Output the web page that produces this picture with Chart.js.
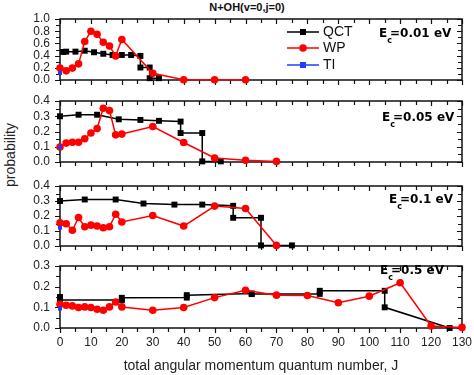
<!DOCTYPE html>
<html>
<head>
<meta charset="utf-8">
<script src="https://cdn.jsdelivr.net/npm/chart.js@4.4.1/dist/chart.umd.min.js"></script>
<style>
  body { margin: 0; background: #fff; width: 474px; height: 375px; position: relative; overflow: hidden; }
  canvas { position: absolute; left: 0; }
  #title { position: absolute; top: 0; left: 147px; width: 200px; text-align: center; font: bold 11px Arial, "Liberation Sans", sans-serif; line-height: 14px; color: #111; }
  #ylab { position: absolute; left: 10px; top: 155px; transform: translate(-50%, -50%) rotate(-90deg); font: 14px Arial, "Liberation Sans", sans-serif; white-space: nowrap; color: #222; }
</style>
</head>
<body>
<div id="title">N+OH(v=0,j=0)</div>
<div id="ylab">probability</div>
<canvas id="c1" width="474"></canvas>
<canvas id="c2" width="474"></canvas>
<canvas id="c3" width="474"></canvas>
<canvas id="c4" width="474"></canvas>
<script>
/* N+OH(v=0,j=0) reaction probability vs total J, four collision energies */
var RED = '#ff0000', BLUE = '#1f3cff', BLACK = '#000';
var FONT = 'Arial, "Liberation Sans", sans-serif';

var EC_LABELS = ['=0.01 eV', '=0.05 eV', '=0.1 eV', '=0.5 eV'];
var SERIES = ['QCT', 'WP', 'TI'];

// Ec = 0.01 eV
var qctJ1 = [1, 2, 5, 8, 11, 14, 17, 20, 23, 26, 26, 29, 29, 32];
var qctP1 = [0.46, 0.465, 0.465, 0.48, 0.455, 0.43, 0.41, 0.41, 0.41, 0.395, 0.205, 0.205, 0.03, 0.03];
var wpJ1 = [0, 2, 4, 6, 8, 10, 12, 14, 16, 18, 20, 30, 40, 50, 60];
var wpP1 = [0.195, 0.15, 0.195, 0.265, 0.63, 0.80, 0.75, 0.62, 0.557, 0.395, 0.665, 0.11, 0.003, 0.003, 0.003];

// Ec = 0.05 eV
var qctJ2 = [0, 6, 12, 19, 26, 32, 39, 39, 46, 46, 52];
var qctP2 = [0.30, 0.31, 0.31, 0.28, 0.276, 0.27, 0.265, 0.19, 0.19, 0.004, 0.004];
var wpJ2 = [0, 2, 4, 6, 8, 10, 12, 14, 16, 18, 20, 30, 40, 50, 60, 70];
var wpP2 = [0.098, 0.124, 0.13, 0.13, 0.152, 0.19, 0.22, 0.352, 0.337, 0.178, 0.183, 0.233, 0.128, 0.026, 0.011, 0.004];

// Ec = 0.1 eV
var qctJ3 = [0, 8, 18, 27, 37, 46, 56, 56, 65, 65, 75];
var qctP3 = [0.30, 0.31, 0.31, 0.283, 0.276, 0.276, 0.268, 0.188, 0.188, 0.004, 0.004];
var wpJ3 = [0, 2, 4, 6, 8, 10, 12, 14, 16, 18, 20, 30, 40, 50, 60, 70];
var wpP3 = [0.154, 0.148, 0.105, 0.19, 0.128, 0.139, 0.133, 0.122, 0.128, 0.212, 0.16, 0.203, 0.133, 0.266, 0.25, 0.004];

// Ec = 0.5 eV
var qctJ4 = [0, 0, 20, 20, 41, 41, 62, 62, 84, 84, 105, 105, 126];
var qctP4 = [0.15, 0.135, 0.135, 0.146, 0.147, 0.159, 0.167, 0.164, 0.165, 0.18, 0.18, 0.10, 0.0];
var wpJ4 = [0, 2, 4, 6, 8, 10, 12, 14, 16, 18, 20, 30, 40, 50, 60, 70, 80, 90, 100, 110, 120, 130];
var wpP4 = [0.115, 0.11, 0.107, 0.099, 0.102, 0.099, 0.091, 0.086, 0.102, 0.126, 0.102, 0.086, 0.099, 0.147, 0.183, 0.159, 0.157, 0.122, 0.154, 0.219, 0.01, 0.003];

// TI value at J = 0 for each energy
var tiP = [0.115, 0.098, 0.122, 0.094];

function pts(js, ps) { return js.map(function (j, i) { return { x: j, y: ps[i] }; }); }

var framePlugin = {
  id: 'frame',
  beforeDatasetsDraw: function (chart, args, o) {
    var a = chart.chartArea, ctx = chart.ctx, xs = chart.scales.x, ys = chart.scales.y;
    ctx.save();
    ctx.strokeStyle = '#111';
    ctx.lineWidth = 1.2;
    ctx.beginPath();
    for (var v = 0; v <= 130; v += 5) {
      var px = Math.round(xs.getPixelForValue(v)) + 0.5;
      var len = v % 10 === 0 ? 5 : 4;
      ctx.moveTo(px, a.bottom); ctx.lineTo(px, a.bottom + len);
      ctx.moveTo(px, a.top); ctx.lineTo(px, a.top + len);
    }
    var n = Math.round(ys.max / o.yMinor);
    for (var i = 0; i <= n; i++) {
      var py = Math.round(ys.getPixelForValue(i * o.yMinor)) + 0.5;
      var l2 = i % 2 === 0 ? 5 : 4;
      ctx.moveTo(a.left, py); ctx.lineTo(a.left - l2, py);
      ctx.moveTo(a.right, py); ctx.lineTo(a.right - l2, py);
    }
    ctx.stroke();
    ctx.lineWidth = 1.5;
    ctx.strokeRect(a.left, a.top, a.right - a.left, a.bottom - a.top);
    ctx.restore();
  },
  afterDraw: function (chart, args, o) {
    var ctx = chart.ctx;
    ctx.save();
    ctx.fillStyle = '#000';
    ctx.textBaseline = 'middle';
    // E_c label
    var x = o.ecX, y = o.ecY - o.offY;
    ctx.font = 'bold 12px "DejaVu Sans", Verdana, sans-serif';
    ctx.fillText('E', x, y);
    var w = ctx.measureText('E').width;
    ctx.font = 'bold 8px "DejaVu Sans", Verdana, sans-serif';
    ctx.fillText('c', x + w, y + 7);
    var wc = ctx.measureText('c').width;
    ctx.font = 'bold 12px "DejaVu Sans", Verdana, sans-serif';
    ctx.fillText(o.ec, x + w + wc * 0.6, y);
    // legend
    if (o.legend) {
      var rows = [32, 48, 65];
      SERIES.forEach(function (name, k) {
        var ds = chart.data.datasets.filter(function (d) { return d.label === name; })[0];
        var ry = rows[k] - o.offY;
        ctx.strokeStyle = ds.borderColor;
        ctx.lineWidth = 1.5;
        ctx.beginPath(); ctx.moveTo(287, ry); ctx.lineTo(319, ry); ctx.stroke();
        ctx.fillStyle = ds.backgroundColor;
        if (ds.pointStyle === 'circle') {
          ctx.beginPath(); ctx.arc(303, ry, 3.8, 0, Math.PI * 2); ctx.fill();
        } else {
          ctx.fillRect(300, ry - 3, 6, 6);
        }
        ctx.fillStyle = '#111';
        ctx.font = '14px ' + FONT;
        ctx.fillText(name, 323, ry);
      });
    }
    ctx.restore();
  }
};

var PANELS = [
  { id: 'c1', top: 19, bottom: 80, yMax: 1.0, yStep: 0.2, yMinor: 0.1, xh: 8, labels: false },
  { id: 'c2', top: 101, bottom: 162, yMax: 0.4, yStep: 0.1, yMinor: 0.05, xh: 8, labels: false },
  { id: 'c3', top: 186, bottom: 246, yMax: 0.4, yStep: 0.1, yMinor: 0.05, xh: 8, labels: false },
  { id: 'c4', top: 266, bottom: 328, yMax: 0.3, yStep: 0.1, yMinor: 0.05, xh: 47, labels: true }
];
var EC_POS = [[379, 34], [382, 118], [389, 200], [380, 271]];
var QCT = [[qctJ1, qctP1], [qctJ2, qctP2], [qctJ3, qctP3], [qctJ4, qctP4]];
var WP = [[wpJ1, wpP1], [wpJ2, wpP2], [wpJ3, wpP3], [wpJ4, wpP4]];

function noPad(s) { s.paddingTop = 0; s.paddingBottom = 0; s.paddingLeft = 0; s.paddingRight = 0; }

PANELS.forEach(function (p, i) {
  var padTop = 10;
  var cv = document.getElementById(p.id);
  cv.height = (p.bottom - p.top) + padTop + p.xh;
  cv.style.top = (p.top - padTop) + 'px';
  var tickFont = { family: FONT, size: 12 };
  new Chart(cv, {
    type: 'line',
    data: {
      datasets: [
        { label: 'TI', data: [{ x: 0, y: tiP[i] }], showLine: false, borderColor: BLUE, backgroundColor: BLUE,
          pointStyle: 'rect', pointRadius: 2.8, pointBorderWidth: 0 },
        { label: 'WP', data: pts(WP[i][0], WP[i][1]), borderColor: RED, backgroundColor: RED, borderWidth: 1.5,
          pointStyle: 'circle', pointRadius: 3.8, pointBorderWidth: 0 },
        { label: 'QCT', data: pts(QCT[i][0], QCT[i][1]), borderColor: BLACK, backgroundColor: BLACK, borderWidth: 1.5,
          pointStyle: 'rect', pointRadius: 4.2, pointBorderWidth: 0 }
      ]
    },
    options: {
      responsive: false,
      animation: false,
      layout: { padding: { top: padTop, right: 12, left: 0, bottom: 0 } },
      datasets: { line: { clip: false, tension: 0 } },
      plugins: {
        legend: { display: false },
        tooltip: { enabled: false },
        frame: { yMinor: p.yMinor, ec: EC_LABELS[i], ecX: EC_POS[i][0], ecY: EC_POS[i][1],
                 offY: p.top - padTop, legend: i === 0 }
      },
      scales: {
        x: {
          type: 'linear', min: 0, max: 130,
          grid: { display: false, drawTicks: false }, border: { display: false },
          ticks: { display: p.labels, stepSize: 10, font: tickFont, color: '#222', padding: 7, maxRotation: 0, autoSkip: false },
          title: { display: p.labels, text: 'total angular momentum quantum number, J',
                   font: { family: FONT, size: 14 }, color: '#222', padding: 0 },
          afterFit: function (s) { s.height = p.xh; noPad(s); }
        },
        y: {
          min: 0, max: p.yMax,
          grid: { display: false, drawTicks: false }, border: { display: false },
          ticks: { stepSize: p.yStep, font: tickFont, color: '#222', padding: 10, autoSkip: false,
                   callback: function (v) { return v.toFixed(1); } },
          afterFit: function (s) { s.width = 60; noPad(s); }
        }
      }
    },
    plugins: [framePlugin]
  });
});
</script>
</body>
</html>
